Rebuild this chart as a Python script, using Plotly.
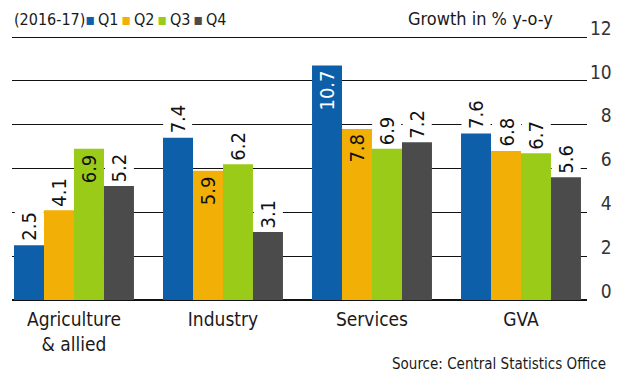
import plotly.graph_objects as go

categories = ["Agriculture & allied", "Industry", "Services", "GVA"]
tick_labels = ["Agriculture<br>& allied", "Industry", "Services", "GVA"]
series_names = ["Q1", "Q2", "Q3", "Q4"]
q1 = [2.5, 7.4, 10.7, 7.6]
q2 = [4.1, 5.9, 7.8, 6.8]
q3 = [6.9, 6.2, 6.9, 6.7]
q4 = [5.2, 3.1, 7.2, 5.6]
y_ticks = [0, 2, 4, 6, 8, 10, 12]
period_label = "(2016-17)"
unit_label = "Growth in % y-o-y"
source_label = "Source: Central Statistics Office"

series = [q1, q2, q3, q4]
colors = ["#0c5fa8", "#f2b007", "#9acb19", "#4b4b4b"]
# which value labels sit inside their bar (as in the original artwork)
label_inside = [
    [False, False, True, False],
    [False, True, False, False],
    [True, True, False, False],
    [False, False, False, False],
]
inside_text_color = ["#ffffff", "#111111", "#111111", "#ffffff"]

FONT = "DejaVu Sans Condensed, DejaVu Sans, sans-serif"
bargap = 0.195
n = len(series)
w = (1 - bargap) / n

fig = go.Figure()
for j, (name, vals) in enumerate(zip(series_names, series)):
    fig.add_trace(go.Bar(
        x=list(range(len(categories))), y=vals, name=name,
        marker=dict(color=colors[j], line=dict(width=0)),
        showlegend=False, hoverinfo="skip",
    ))

annotations = []
for j, vals in enumerate(series):
    for i, v in enumerate(vals):
        xi = i + (j - (n - 1) / 2) * w
        if label_inside[i][j]:
            annotations.append(dict(
                x=xi, y=v, xref="x", yref="y", text=f"{v:.1f}",
                textangle=-90, showarrow=False, yanchor="top", xanchor="center",
                yshift=-3, font=dict(family=FONT, size=20, color=inside_text_color[j]),
                borderpad=1,
            ))
        else:
            annotations.append(dict(
                x=xi, y=v, xref="x", yref="y", text=f"{v:.1f}",
                textangle=-90, showarrow=False, yanchor="bottom", xanchor="center",
                yshift=1, font=dict(family=FONT, size=20, color="#111111"),
                bgcolor="#ffffff", borderpad=2,
            ))

legend_text = period_label + "\u2009".join(
    f"<span style='color:{c}'>▪</span>\u2009{nm}" for c, nm in zip(colors, series_names)
)
annotations.append(dict(
    x=0, y=1, xref="paper", yref="paper", text=legend_text, showarrow=False,
    xanchor="left", yanchor="bottom", xshift=0, yshift=3,
    font=dict(family=FONT, size=16, color="#1a1a1a"),
))
annotations.append(dict(
    x=1, y=1, xref="paper", yref="paper", text=unit_label, showarrow=False,
    xanchor="right", yanchor="bottom", xshift=-32, yshift=3,
    font=dict(family=FONT, size=18, color="#1a1a1a"),
))
annotations.append(dict(
    x=1, y=0, xref="paper", yref="paper", text=source_label, showarrow=False,
    xanchor="right", yanchor="middle", xshift=21, yshift=-64,
    font=dict(family=FONT, size=15, color="#1a1a1a"),
))

# the page adds an 8px body margin, so the figure is sized to fit the 620x379 window
fig.update_layout(
    width=612, height=371,
    margin=dict(l=4, r=33, t=26, b=79),
    paper_bgcolor="#ffffff", plot_bgcolor="#ffffff",
    barmode="group", bargap=bargap, bargroupgap=0,
    annotations=annotations,
    font=dict(family=FONT, color="#1a1a1a"),
)
fig.update_xaxes(
    tickmode="array", tickvals=list(range(len(categories))), ticktext=tick_labels,
    range=[-0.416, 3.443], showgrid=False, zeroline=False, showline=False,
    ticks="", automargin=False, ticklabelstandoff=6,
    tickfont=dict(family=FONT, size=19, color="#1a1a1a"),
)
fig.update_yaxes(
    side="right", range=[0, 12.14], tickmode="array", tickvals=y_ticks,
    ticktext=[("\u2007" if t < 10 else "") + str(t) for t in y_ticks],
    ticklabelposition="outside", ticklabelshift=-9,
    showgrid=True, gridcolor="#111111", gridwidth=1,
    zeroline=True, zerolinecolor="#111111", zerolinewidth=1.5,
    showline=False, ticks="", ticklabelstandoff=2, automargin=False,
    tickfont=dict(family=FONT, size=19, color="#333333"),
)

fig.write_html("out.html")
